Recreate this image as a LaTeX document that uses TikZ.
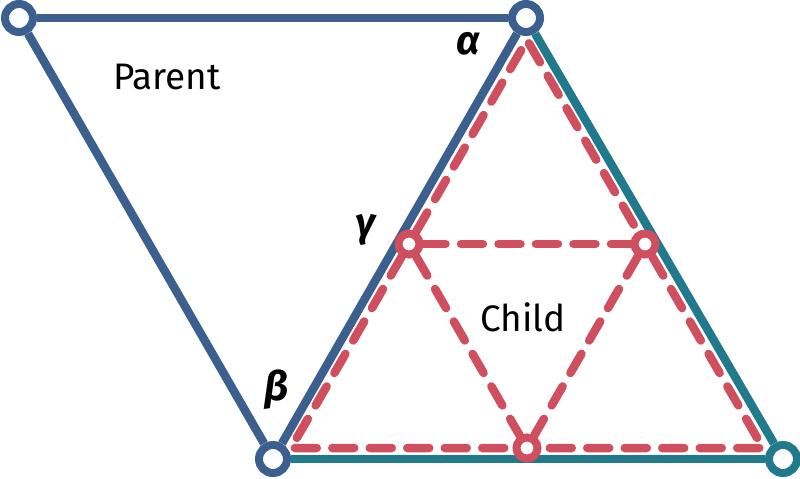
\documentclass[tikz,border=0pt]{standalone}
\usepackage{fontspec}
\setmainfont{Fira Sans}
\definecolor{parentblue}{RGB}{60,96,142}
\definecolor{childteal}{RGB}{33,122,139}
\definecolor{subred}{RGB}{207,79,94}

\begin{document}
\begin{tikzpicture}[x=0.02cm, y=-0.02cm,
	edge/.style={line width=0.17cm, line join=round},
	blueedge/.style={edge, color=parentblue},
	tealedge/.style={edge, color=childteal},
	rededge/.style={edge, color=subred, line cap=round, dash pattern=on 0.44cm off 0.31cm},
	vtx/.style={circle, line width=0.16cm, fill=white, inner sep=0pt, minimum size=0.56cm},
	midvtx/.style={circle, draw=subred, line width=0.16cm, fill=white, inner sep=0pt, minimum size=0.42cm},
	lbl/.style={font=\fontsize{21}{24}\selectfont},
	greek/.style={font=\fontsize{23}{26}\selectfont\bfseries\itshape}]
			%%%%% START %%%%%
			
			\useasboundingbox (0, 0) rectangle (800, 478);
			
			% outer vertices
			\node[vtx, draw=parentblue] (tl) at (19, 18) {};
			\node[vtx, draw=parentblue] (alpha) at (526, 18) {};
			\node[vtx, draw=parentblue] (beta) at (273, 459) {};
			\node[vtx, draw=childteal] (br) at (783, 459) {};
			
			% child edges
			\draw[tealedge] (alpha) -- (br);
			\draw[tealedge] (beta) -- (br);
			
			% parent edges
			\draw[blueedge] (tl) -- (alpha);
			\draw[blueedge] (tl) -- (beta);
			\draw[blueedge] (alpha) -- (beta);
			
			% subdivision
			\coordinate (rtop) at (527, 40);
			\coordinate (rleft) at (291, 448);
			\coordinate (rright) at (763, 448);
			\node[midvtx] (gamma) at (409, 244) {};
			\node[midvtx] (mright) at (645, 244) {};
			\node[midvtx] (mbottom) at (527, 448) {};
			
			\draw[rededge] (gamma) -- (rtop) -- (mright);
			\draw[rededge] (gamma) -- (rleft) -- (mbottom);
			\draw[rededge] (mright) -- (rright) -- (mbottom);
			\draw[rededge] (gamma) -- (mright);
			\draw[rededge] (gamma) -- (mbottom);
			\draw[rededge] (mright) -- (mbottom);
			
			% labels
			\node[lbl] (parentlbl) at (167, 77) {Parent};
			\node[lbl] (childlbl) at (523, 317) {Child};
			\node[greek] (alphalbl) at (468, 44) {α};
			\node[greek] (betalbl) at (277, 390) {β};
			\node[greek] (gammalbl) at (366, 230) {γ};
			
			%%%%% END %%%%%
\end{tikzpicture}
\end{document}
